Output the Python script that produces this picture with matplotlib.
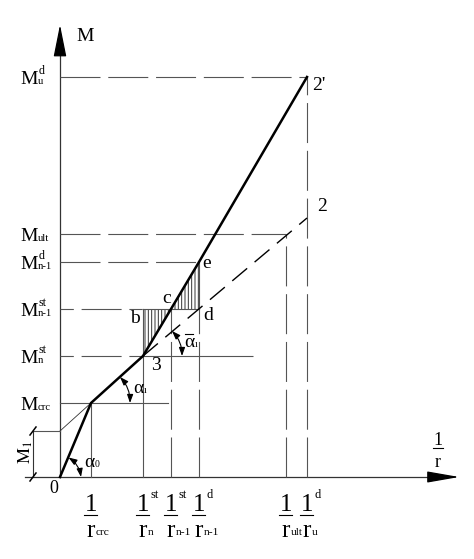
import matplotlib
matplotlib.use('Agg')
import matplotlib.pyplot as plt
from matplotlib.patches import FancyArrowPatch

plt.rcParams['font.family'] = ['Liberation Serif', 'DejaVu Serif']
plt.rcParams['mathtext.fontset'] = 'stix'
plt.rcParams['hatch.linewidth'] = 0.7

# curvature positions (1/r) of the reference lines
curv = [31, 83, 111, 139, 226, 247]
curv_sup = ['', 'st', 'st', 'd', '', 'd']
curv_sub = ['crc', 'n', 'n-1', 'n-1', 'ult', 'u']

# moment levels
m_first = 46
m_levels = [74, 121, 168, 215, 243, 400]
m_sup = ['', 'st', 'st', 'd', '', 'd']
m_sub = ['crc', 'n', 'n-1', 'n-1', 'ult', 'u']

# M - 1/r diagram (0, crc, 3, c, e, 2')
curve_x = [0, 31, 83, 111, 139, 247]
curve_y = [0, 74, 121, 168, 215, 400]
# secant 3 -> 2
sec_x = [83, 247]
sec_y = [121, 259]

grey = '#555555'
ref_dash = (0, (36, 7))

fig = plt.figure(figsize=(4.74, 5.59), dpi=100)
ax = fig.add_axes([0, 0, 1, 1])
ax.set_xlim(-60, 414)
ax.set_ylim(-82, 477)
ax.axis('off')


def label(x, y, main, sub='', sup='', size=14, ha='left', sub_k=0.55,
          sup_k=0.62, sub_up=0.0):
    t = ax.text(x, y, main, fontsize=size, ha=ha, va='baseline')
    d = 0.22 * size
    if sub:
        ax.annotate(sub, xy=(1, 0), xycoords=t, xytext=(0.3, d + sub_up),
                    textcoords='offset points', fontsize=size * sub_k,
                    va='baseline', ha='left')
    if sup:
        ax.annotate(sup, xy=(1, 0), xycoords=t, xytext=(0.8, d + 0.5 * size),
                    textcoords='offset points', fontsize=size * sup_k,
                    va='baseline', ha='left')
    return t


# axes
ax.plot([0, 0], [0, 440], color='#333333', lw=0.9)
ax.plot([-35, 380], [0, 0], color='#333333', lw=0.9)
ax.annotate('', xy=(0, 455), xytext=(0, 420),
            arrowprops=dict(arrowstyle='-|>,head_length=2.0,head_width=0.4',
                            mutation_scale=10, color='black', lw=0.9))
ax.annotate('', xy=(402, 0), xytext=(370, 0),
            arrowprops=dict(arrowstyle='-|>,head_length=2.0,head_width=0.35',
                            mutation_scale=10, color='black', lw=0.9))

# horizontal reference lines
ax.plot([0, curv[5]], [m_levels[5]] * 2, color=grey, lw=0.8, ls=ref_dash)
ax.plot([0, curv[4]], [m_levels[4]] * 2, color=grey, lw=0.8, ls=ref_dash)
ax.plot([0, curv[3]], [m_levels[3]] * 2, color=grey, lw=0.8, ls=ref_dash)
ax.plot([0, curv[1]], [m_levels[2]] * 2, color=grey, lw=0.8, ls=(0, (12, 7, 36, 7)))
ax.plot([curv[1], curv[3]], [m_levels[2]] * 2, color=grey, lw=0.8)
ax.plot([0, 193], [m_levels[1]] * 2, color=grey, lw=0.8, ls=(0, (12, 7, 36, 7, 200, 1)))
ax.plot([0, 108], [m_levels[0]] * 2, color=grey, lw=0.8)

# vertical reference lines
ax.plot([curv[0]] * 2, [0, m_levels[0]], color=grey, lw=0.8)
ax.plot([curv[1]] * 2, [0, m_levels[2]], color=grey, lw=0.8)
ax.plot([curv[2]] * 2, [0, m_levels[2]], color=grey, lw=0.8, ls=(0, (36, 7)))
ax.plot([curv[3]] * 2, [m_levels[2], m_levels[3]], color=grey, lw=0.8)
ax.plot([curv[3]] * 2, [0, m_levels[2]], color=grey, lw=0.8, ls=(0, (36, 7)))
ax.plot([curv[4]] * 2, [0, m_levels[4]], color=grey, lw=0.8, ls=(0, (36, 7)))
ax.plot([curv[5]] * 2, [0, m_levels[5]], color=grey, lw=0.8, ls=(0, (36, 7)))

# hatched areas b-3-c and c-e-d
ax.fill_between(curve_x[2:4], curve_y[2:4], m_levels[2], facecolor='none',
                edgecolor='#333333', hatch='|||||', linewidth=0)
ax.fill_between(curve_x[3:5], m_levels[2], curve_y[3:5], facecolor='none',
                edgecolor='#333333', hatch='|||||', linewidth=0)

# M1 construction
ax.plot([0, curve_x[1]], [m_first, curve_y[1]], color='#333333', lw=0.6)
ax.plot([-27, 0], [m_first, m_first], color=grey, lw=0.8)
ax.plot([-27, -27], [0, m_first], color='#333333', lw=0.8)
for yy in (0, m_first):
    ax.plot([-30, -24], [yy - 4, yy + 4], color='black', lw=1.1)
ax.text(-34, 25, r'$\mathrm{M}_{1}$', fontsize=13, rotation=90, ha='center', va='center')

# secant 3 - 2
ax.plot(sec_x, sec_y, color='black', lw=1.0, ls=(0, (14, 7)))

# main diagram
ax.plot(curve_x, curve_y, color='black', lw=1.8, solid_joinstyle='miter')

# angles
arc_style = '<|-|>,head_length=0.5,head_width=0.18'
arcs = [((21, 0), (8.5, 19.5), 0.22), ((70, 74), (60, 100), 0.2),
        ((122, 121), (112, 146), 0.2)]
for pa, pb, rad in arcs:
    ax.add_patch(FancyArrowPatch(pa, pb, connectionstyle=f'arc3,rad={rad}',
                                 arrowstyle=arc_style, mutation_scale=10,
                                 color='black', lw=0.8, shrinkA=0, shrinkB=0))
label(24, 10, 'α', '0', size=14, sub_k=0.5)
label(73, 84, 'α', 'ı', size=14, sub_k=0.5)
label(124, 130, 'α', 'ı', size=14, sub_k=0.5)
ax.plot([125, 133], [143, 143], color='black', lw=0.8)

# point labels
ax.text(75, 154, 'b', fontsize=14, ha='center', va='baseline')
ax.text(106.5, 174, 'c', fontsize=14, ha='center', va='baseline')
ax.text(148, 157, 'd', fontsize=14, ha='center', va='baseline')
ax.text(147, 209, 'e', fontsize=14, ha='center', va='baseline')
ax.text(96, 107, '3', fontsize=14, ha='center', va='baseline')
ax.text(252, 387, "2'", fontsize=14, ha='left', va='baseline')
ax.text(257, 266, '2', fontsize=14, ha='left', va='baseline')
ax.text(-6.5, -16, '0', fontsize=13, ha='center', va='baseline')

# axis titles
ax.text(25, 436, 'M', fontsize=14, ha='center', va='baseline')
ax.text(378, 32, '1', fontsize=13, ha='center', va='baseline')
ax.plot([373, 383], [29, 29], color='black', lw=0.8)
ax.text(378, 10, 'r', fontsize=13, ha='center', va='baseline')

# moment labels
for lev, sb, sp in zip(m_levels, m_sub, m_sup):
    label(-40, lev - 7, 'M', sb, sp, size=14)

# curvature labels
for xx, sb, sp in zip(curv, curv_sub, curv_sup):
    label(xx, -34, '1', '', sp, size=18, ha='center', sup_k=0.5)
    ax.plot([xx - 6.5, xx + 6.5], [-38, -38], color='black', lw=0.8)
    label(xx, -60, 'r', sb, '', size=18, ha='center', sub_k=0.46, sub_up=1.2)

fig.savefig('out.png', dpi=100)
